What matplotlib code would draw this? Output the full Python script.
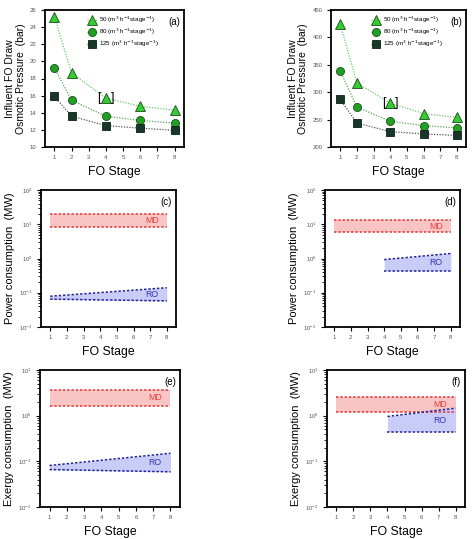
import matplotlib
matplotlib.use("Agg")
import matplotlib.pyplot as plt
import numpy as np
from matplotlib.ticker import LogLocator, NullFormatter

plt.rcParams['font.family'] = ['Liberation Sans', 'DejaVu Sans']

# ---------------- data ----------------
stages = [1, 2, 4, 6, 8]
a_50 = [25.2, 18.65, 15.7, 14.75, 14.3]
a_80 = [19.25, 15.45, 13.6, 13.1, 12.8]
a_125 = [15.9, 13.6, 12.5, 12.2, 11.95]

b_50 = [425, 317, 280, 261, 254]
b_80 = [339, 273, 247, 239, 235]
b_125 = [287, 244, 228, 224, 221]

legend_labels = ["50 (m$^3$ h$^{-1}$stage$^{-1}$)",
                 "80 (m$^3$ h$^{-1}$stage$^{-1}$)",
                 "125 (m$^3$ h$^{-1}$stage$^{-1}$)"]

# band data: stage endpoints, lower, upper
c_md_x = [1, 8]; c_md_lo = [8.5, 8.5]; c_md_hi = [19.5, 19.5]
c_ro_x = [1, 8]; c_ro_lo = [0.065, 0.058]; c_ro_hi = [0.079, 0.14]

d_md_x = [1, 8]; d_md_lo = [6.0, 6.0]; d_md_hi = [13.0, 13.0]
d_ro_x = [4, 8]; d_ro_lo = [0.44, 0.44]; d_ro_hi = [0.93, 1.4]

e_md_x = [1, 8]; e_md_lo = [1.66, 1.66]; e_md_hi = [3.6, 3.6]
e_ro_x = [1, 8]; e_ro_lo = [0.066, 0.059]; e_ro_hi = [0.081, 0.15]

f_md_x = [1, 8]; f_md_lo = [1.2, 1.2]; f_md_hi = [2.6, 2.6]
f_ro_x = [4, 8]; f_ro_lo = [0.45, 0.45]; f_ro_hi = [0.96, 1.46]

xticks = [1, 2, 3, 4, 5, 6, 7, 8]

# ---------------- figure ----------------
W, H = 474, 539
fig = plt.figure(figsize=(W / 100, H / 100), dpi=100)

def mkax(l, r, t, b):
    return fig.add_axes([l / W, 1 - b / H, (r - l) / W, (b - t) / H])

ax_a = mkax(45, 184, 10, 147)
ax_b = mkax(331, 466, 10, 147)
ax_c = mkax(41, 176, 190, 327)
ax_d = mkax(325, 460, 190, 327)
ax_e = mkax(40, 180, 370, 507)
ax_f = mkax(327, 465, 370, 507)

tick_col = '#555555'

def style(ax, letter, ylabel, ysize):
    ax.set_xlim(0.45, 8.55)
    ax.set_xticks(xticks)
    ax.tick_params(axis='both', labelsize=4.3, labelcolor=tick_col, width=0.8, length=3, pad=3)
    ax.tick_params(axis='y', which='minor', length=2, width=0.6)
    for s in ax.spines.values():
        s.set_linewidth(1.3)
    ax.set_xlabel('FO Stage', fontsize=8.8, labelpad=4)
    ax.set_ylabel(ylabel, fontsize=ysize, labelpad=3, linespacing=1.1)
    ax.text(0.97, 0.95, letter, transform=ax.transAxes, ha='right', va='top', fontsize=7)

ms = 5.5
series_style = [
    dict(marker='^', mfc='#33cc33', mec='#1a4d1a', color='#66cc66', ms=ms + 1.0),
    dict(marker='o', mfc='#22a022', mec='#1a4d1a', color='#55aa55', ms=ms + 0.3),
    dict(marker='s', mfc='#173828', mec='#0d1f16', color='#555555', ms=ms - 0.3),
]

def press(ax, ys, ylim, yticks, letter):
    for y, st, lab in zip(ys, series_style, legend_labels):
        ax.plot(stages, y, linestyle=(0, (1, 1.2)), lw=0.9, mew=0.6, label=lab, **st)
    ax.set_ylim(*ylim)
    ax.set_yticks(yticks)
    style(ax, letter, 'Influent FO Draw\nOsmotic Pressure  (bar)', 7.5)
    ax.legend(loc='upper center', bbox_to_anchor=(0.56, 1.0), frameon=False, fontsize=4.5,
              handlelength=1.6, handletextpad=0.3, labelspacing=0.25, borderaxespad=0.4)
    # bracket around stage-4 triangle
    ax.text(3.6, ys[0][2], '[', ha='center', va='center', fontsize=9)
    ax.text(4.4, ys[0][2], ']', ha='center', va='center', fontsize=9)

press(ax_a, [a_50, a_80, a_125], (10, 26), [10, 12, 14, 16, 18, 20, 22, 24, 26], '(a)')
press(ax_b, [b_50, b_80, b_125], (200, 450), [200, 250, 300, 350, 400, 450], '(b)')

md_line = '#e03535'; md_fill = '#f8c4c4'
ro_line = '#22229a'; ro_fill = '#c8ccf6'
dash = (0, (1.6, 1.2))

def band(ax, x, lo, hi, lc, fc, tc, label, lx):
    ax.fill_between(x, lo, hi, color=fc, lw=0)
    ax.plot(x, lo, color=lc, lw=1.1, linestyle=dash)
    ax.plot(x, hi, color=lc, lw=1.1, linestyle=dash)
    ym = np.sqrt(np.interp(lx, x, lo) * np.interp(lx, x, hi))
    ax.text(lx, ym, label, color=tc, fontsize=6.3, ha='center', va='center')

def logpanel(ax, md, ro, ylim, letter, ylabel):
    ax.set_yscale('log')
    band(ax, *md, md_line, md_fill, '#e84040', 'MD', 7.1)
    band(ax, *ro, ro_line, ro_fill, '#3535b5', 'RO', 7.1)
    ax.set_ylim(*ylim)
    ax.yaxis.set_major_locator(LogLocator(base=10, numticks=10))
    ax.yaxis.set_minor_locator(LogLocator(base=10, subs=np.arange(2, 10), numticks=10))
    ax.yaxis.set_minor_formatter(NullFormatter())
    style(ax, letter, ylabel, 8)

logpanel(ax_c, (c_md_x, c_md_lo, c_md_hi), (c_ro_x, c_ro_lo, c_ro_hi), (1e-2, 1e2), '(c)',
         'Power consumption  (MW)')
logpanel(ax_d, (d_md_x, d_md_lo, d_md_hi), (d_ro_x, d_ro_lo, d_ro_hi), (1e-2, 1e2), '(d)',
         'Power consumption  (MW)')
logpanel(ax_e, (e_md_x, e_md_lo, e_md_hi), (e_ro_x, e_ro_lo, e_ro_hi), (1e-2, 1e1), '(e)',
         'Exergy consumption  (MW)')
logpanel(ax_f, (f_md_x, f_md_lo, f_md_hi), (f_ro_x, f_ro_lo, f_ro_hi), (1e-2, 1e1), '(f)',
         'Exergy consumption  (MW)')

fig.savefig('out.png', dpi=100)
